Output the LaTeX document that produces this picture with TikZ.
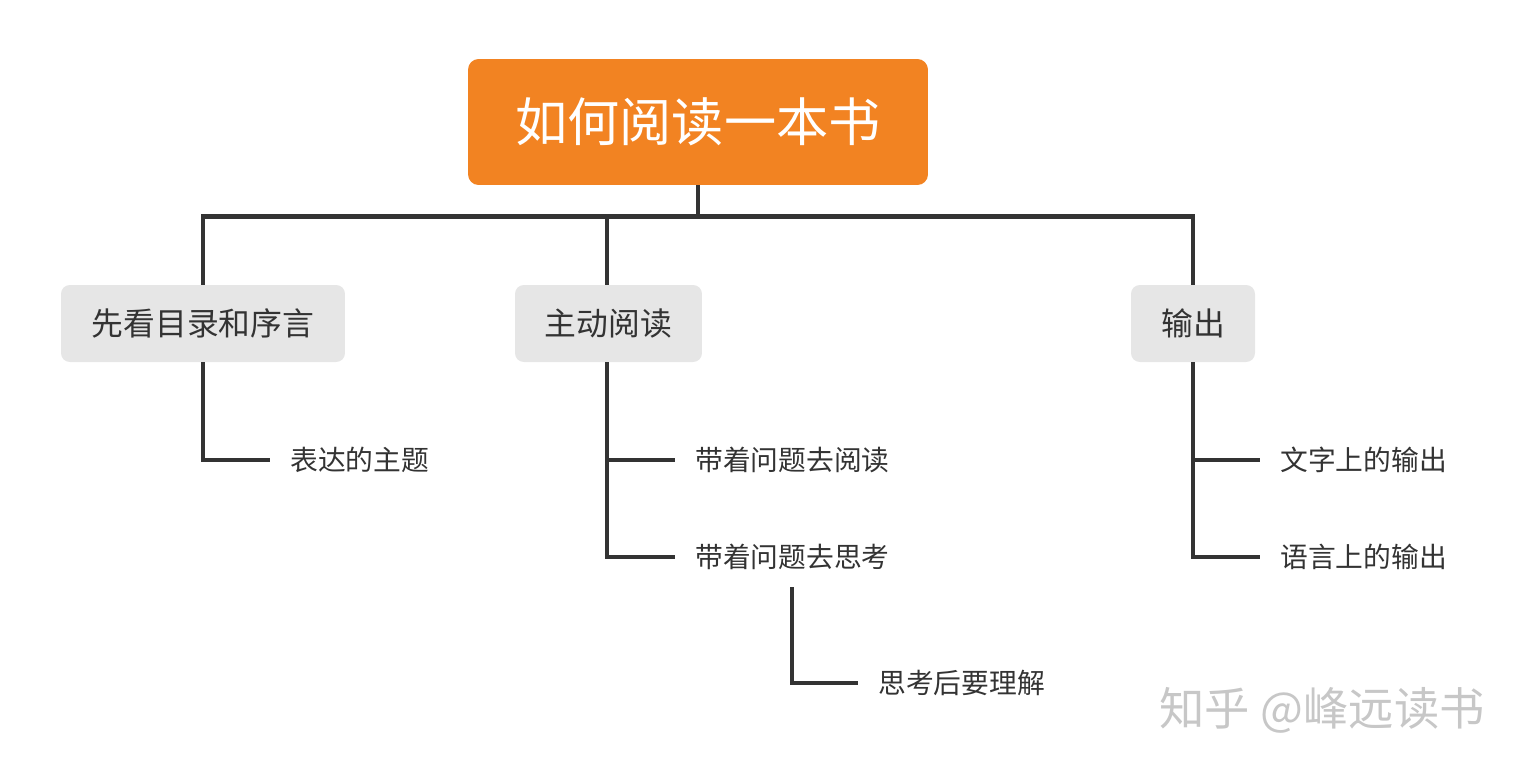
\documentclass[tikz,border=0pt]{standalone}
\usepackage{fontspec}
\setmainfont{Noto Sans CJK SC}
\usetikzlibrary{positioning}
\definecolor{rootorange}{HTML}{F28322}
\definecolor{boxgray}{HTML}{E6E6E6}
\definecolor{linegray}{HTML}{333333}
\tikzset{
  rootbox/.style={fill=rootorange,rounded corners=6pt,minimum width=9.2cm,minimum height=2.52cm,text=white,font=\fontsize{29.7}{32}\selectfont},
  topicbox/.style={fill=boxgray,rounded corners=5pt,minimum height=1.54cm,font=\fontsize{18.1}{20}\selectfont,text=linegray},
  leaf/.style={anchor=west,font=\fontsize{15.8}{18}\selectfont,text=linegray,inner sep=0pt},
  branch/.style={draw=linegray,line width=2.8pt}
}
\begin{document}
\begin{tikzpicture}[x=0.02cm,y=-0.02cm]
		\useasboundingbox (0,0) rectangle (1524,772);
		\node [rootbox] (root) at (698,122) {如何阅读一本书};
		\node [topicbox,minimum width=5.68cm] (look) at (203,323.5) {先看目录和序言};
		\node [topicbox,minimum width=3.74cm] (active) at (608.5,323.5) {主动阅读};
		\node [topicbox,minimum width=2.48cm] (output) at (1193,323.5) {输出};

		\node [leaf] (theme) at (290,460) {表达的主题};
		\node [leaf] (readq) at (695,460) {带着问题去阅读};
		\node [leaf] (thinkq) at (695,557) {带着问题去思考};
		\node [leaf] (understand) at (878,683) {思考后要理解};
		\node [leaf] (textout) at (1280,460) {文字上的输出};
		\node [leaf] (speechout) at (1280,557) {语言上的输出};

		\coordinate (hub) at (698,217);
		\node [anchor=east,inner sep=0pt,text=black!22,font=\fontsize{25.8}{28}\selectfont] (mark) at (1485,710) {知乎 @峰远读书};

		\draw [branch] (root.south) -- (hub);
		\draw [branch] (look.north) -- ++(0,-68) -| (output.north);
		\draw [branch] (active.north -| 607,0) -- ++(0,-68);
		\draw [branch] (look.south) |- ([xshift=-11.3pt]theme.west);
		\draw [branch] (607,362) |- ([xshift=-11.3pt]thinkq.west);
		\draw [branch] (607,460) -- ([xshift=-11.3pt]readq.west);
		\draw [branch] (792,587) |- ([xshift=-11.3pt]understand.west);
		\draw [branch] (output.south) |- ([xshift=-11.3pt]speechout.west);
		\draw [branch] (1193,460) -- ([xshift=-11.3pt]textout.west);
	\end{tikzpicture}
\end{document}
